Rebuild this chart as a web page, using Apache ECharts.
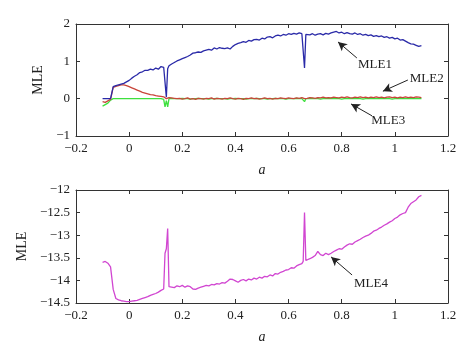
<!DOCTYPE html>
<html><head><meta charset="utf-8">
<script src="https://cdn.jsdelivr.net/npm/echarts@6/dist/echarts.min.js"></script>
<style>html,body{margin:0;padding:0;background:#fff}#c{width:474px;height:361px}</style>
</head><body><div id="c"></div>
<script>
const xs = [
-0.10,-0.09,-0.08,-0.07,-0.06,-0.05,-0.04,-0.03,-0.02,-0.01,
0.00,0.01,0.02,0.03,0.04,0.05,0.06,0.07,0.08,0.09,
0.10,0.11,0.12,0.13,0.135,0.14,0.145,0.15,0.16,0.17,
0.18,0.19,0.20,0.21,0.22,0.23,0.24,0.25,0.26,0.27,
0.28,0.29,0.30,0.31,0.32,0.33,0.34,0.35,0.36,0.37,
0.38,0.39,0.40,0.41,0.42,0.43,0.44,0.45,0.46,0.47,
0.48,0.49,0.50,0.51,0.52,0.53,0.54,0.55,0.56,0.57,
0.58,0.59,0.60,0.61,0.62,0.63,0.64,0.65,0.655,0.66,
0.665,0.67,0.68,0.69,0.70,0.71,0.72,0.73,0.74,0.75,
0.76,0.77,0.78,0.79,0.80,0.81,0.82,0.83,0.84,0.85,
0.86,0.87,0.88,0.89,0.90,0.91,0.92,0.93,0.94,0.95,
0.96,0.97,0.98,0.99,1.00,1.01,1.02,1.03,1.04,1.05,
1.06,1.07,1.08,1.09,1.10];

const mle1 = [
0.00,0.00,0.00,0.00,0.32,0.35,0.37,0.39,0.41,0.45,
0.49,0.55,0.60,0.64,0.70,0.72,0.76,0.76,0.79,0.77,
0.82,0.79,0.86,0.84,0.86,0.04,0.80,0.88,0.93,0.97,
1.01,1.04,1.07,1.10,1.13,1.17,1.22,1.23,1.25,1.24,
1.28,1.30,1.32,1.30,1.36,1.33,1.37,1.35,1.34,1.36,
1.33,1.40,1.45,1.48,1.50,1.53,1.51,1.56,1.54,1.58,
1.59,1.57,1.62,1.60,1.65,1.66,1.63,1.68,1.70,1.68,
1.72,1.70,1.74,1.72,1.75,1.73,1.76,1.74,1.77,0.82,
1.72,1.74,1.71,1.74,1.70,1.73,1.74,1.71,1.75,1.73,
1.76,1.78,1.80,1.76,1.78,1.74,1.77,1.74,1.73,1.76,
1.72,1.74,1.70,1.72,1.69,1.71,1.67,1.69,1.66,1.68,
1.64,1.66,1.62,1.64,1.60,1.62,1.57,1.58,1.54,1.50,
1.47,1.46,1.43,1.40,1.42];

const mle2 = [
-0.08,-0.10,-0.06,-0.02,0.30,0.33,0.35,0.37,0.37,0.35,
0.32,0.29,0.26,0.23,0.20,0.17,0.15,0.13,0.11,0.10,
0.08,0.07,0.06,0.05,0.04,0.00,0.01,0.03,0.02,0.01,
0.00,0.01,-0.01,0.00,0.02,-0.01,0.00,-0.02,0.01,0.00,
-0.01,0.01,0.00,0.02,-0.01,0.01,0.00,-0.01,0.01,0.00,
0.02,0.00,-0.01,0.01,0.00,-0.02,0.01,0.00,0.02,0.00,
0.01,-0.01,0.00,0.02,0.00,0.01,-0.01,0.01,0.00,0.02,
0.01,0.00,0.02,0.01,0.00,0.02,0.01,0.03,0.02,0.00,
0.02,0.01,0.03,0.02,0.01,0.03,0.02,0.04,0.02,0.03,
0.02,0.04,0.03,0.02,0.04,0.03,0.05,0.03,0.02,0.04,
0.03,0.05,0.03,0.04,0.02,0.04,0.03,0.05,0.03,0.04,
0.02,0.04,0.05,0.03,0.04,0.02,0.04,0.03,0.05,0.03,
0.04,0.03,0.05,0.04,0.03];

const mle3 = [
-0.20,-0.16,-0.12,-0.04,0.00,0.00,0.00,0.00,0.00,0.00,
0.00,0.00,0.00,0.00,0.00,0.00,0.00,0.00,0.00,0.00,
0.00,0.00,0.00,-0.02,-0.22,-0.05,-0.22,0.00,0.00,0.00,
0.00,0.00,0.01,0.00,0.00,-0.01,0.00,0.00,0.01,0.00,
0.00,0.00,-0.01,0.00,0.00,0.01,0.00,0.00,0.00,-0.01,
0.00,0.00,0.01,0.00,0.00,0.00,-0.01,0.00,0.00,0.00,
0.01,0.00,0.00,0.00,-0.01,0.00,0.00,0.01,0.00,0.00,
0.00,-0.01,0.00,0.00,0.00,0.01,0.00,0.00,0.00,-0.08,
0.00,0.00,0.00,0.01,0.00,0.00,-0.01,0.00,0.00,0.00,
0.01,0.00,0.00,0.00,-0.01,0.00,0.00,0.01,0.00,0.00,
0.00,0.00,-0.01,0.00,0.00,0.01,0.00,0.00,0.00,0.00,
0.01,0.00,0.00,-0.01,0.00,0.00,0.00,0.01,0.00,0.00,
0.00,0.00,0.01,0.00,0.00];

const mle4 = [
-13.60,-13.58,-13.62,-13.70,-14.20,-14.40,-14.43,-14.45,-14.46,-14.47,
-14.47,-14.46,-14.45,-14.44,-14.42,-14.40,-14.38,-14.36,-14.33,-14.31,
-14.29,-14.26,-14.22,-14.19,-13.40,-13.30,-12.85,-14.14,-14.15,-14.16,
-14.12,-14.14,-14.11,-14.15,-14.12,-14.14,-14.19,-14.20,-14.17,-14.15,
-14.13,-14.11,-14.12,-14.09,-14.10,-14.07,-14.08,-14.05,-14.06,-14.02,
-13.97,-13.98,-14.01,-14.04,-14.00,-13.98,-14.01,-13.97,-13.99,-13.95,
-13.97,-13.93,-13.95,-13.91,-13.92,-13.88,-13.90,-13.85,-13.86,-13.82,
-13.80,-13.77,-13.76,-13.72,-13.73,-13.68,-13.65,-13.63,-13.58,-12.50,
-13.56,-13.55,-13.52,-13.49,-13.45,-13.36,-13.43,-13.45,-13.40,-13.43,
-13.40,-13.36,-13.33,-13.30,-13.31,-13.26,-13.22,-13.19,-13.20,-13.15,
-13.12,-13.09,-13.05,-13.02,-13.00,-12.96,-12.91,-12.89,-12.85,-12.82,
-12.78,-12.75,-12.71,-12.68,-12.63,-12.60,-12.55,-12.52,-12.50,-12.38,
-12.30,-12.26,-12.22,-12.15,-12.12];

// annotations: [label, arrowStart, arrowEnd, labelPos]
const notes1 = [
  ['MLE1', [0.857, 1.09], [0.786, 1.52], [0.925, 0.90]],
  ['MLE2', [1.049, 0.50], [0.955, 0.20], [1.120, 0.53]],
  ['MLE3', [0.914, -0.46], [0.835, -0.14], [0.975, -0.60]]
];
const notes2 = [
  ['MLE4', [0.839, -13.88], [0.760, -13.48], [0.910, -14.07]]
];

const FONT = 'Liberation Serif';
const fmt = v => String(+v.toFixed(2)).replace('-', '\u2212');
const pair = arr => arr.map((v, i) => [xs[i], v]);

function xAx(grid, pos, show) {
  return {
    type: 'value', gridIndex: grid, position: pos, min: -0.2, max: 1.2, interval: 0.2,
    axisLine: {show: true, onZero: false, lineStyle: {color: '#333', width: 1}},
    axisTick: {show: true, inside: true, length: 4, lineStyle: {color: '#333'}},
    axisLabel: {show: show, color: '#222', fontFamily: FONT, fontSize: 13, margin: 6, formatter: fmt},
    splitLine: {show: false},
    name: show ? 'a' : '', nameLocation: 'middle', nameGap: 27,
    nameTextStyle: {fontFamily: FONT, fontStyle: 'italic', fontSize: 14, color: '#222'}
  };
}
function yAx(grid, pos, show, min, max, iv, gap) {
  return {
    type: 'value', gridIndex: grid, position: pos, min: min, max: max, interval: iv,
    axisLine: {show: true, onZero: false, lineStyle: {color: '#333', width: 1}},
    axisTick: {show: true, inside: true, length: 4, lineStyle: {color: '#333'}},
    axisLabel: {show: show, color: '#222', fontFamily: FONT, fontSize: 13, margin: 6, formatter: fmt},
    splitLine: {show: false},
    name: show ? 'MLE' : '', nameLocation: 'middle', nameGap: gap, nameRotate: 90,
    nameTextStyle: {fontFamily: FONT, fontSize: 14, color: '#222'}
  };
}
function annot(notes) {
  return {
    markLine: {
      silent: true, animation: false, symbol: ['none', 'arrow'], symbolSize: [7, 9],
      lineStyle: {color: '#222', width: 1, type: 'solid'}, label: {show: false},
      data: notes.map(n => [{coord: n[1]}, {coord: n[2]}])
    },
    markPoint: {
      silent: true, animation: false, symbol: 'circle', symbolSize: 1,
      itemStyle: {color: 'rgba(0,0,0,0)'},
      label: {show: true, position: 'inside', color: '#222', fontFamily: FONT, fontSize: 13, formatter: p => p.name},
      data: notes.map(n => ({name: n[0], coord: n[3]}))
    }
  };
}
function line(name, data, color, xi, yi, extra) {
  return Object.assign({
    name: name, type: 'line', xAxisIndex: xi, yAxisIndex: yi, data: pair(data),
    showSymbol: false, symbol: 'none', lineStyle: {color: color, width: 1.3}, itemStyle: {color: color},
    z: 2
  }, extra || {});
}

const chart = echarts.init(document.getElementById('c'), null, {renderer: 'canvas'});
chart.setOption({
  animation: false,
  backgroundColor: '#fff',
  grid: [
    {left: 76, top: 24, width: 372, height: 112},
    {left: 76, top: 190, width: 372, height: 113}
  ],
  xAxis: [xAx(0, 'bottom', true), xAx(0, 'top', false), xAx(1, 'bottom', true), xAx(1, 'top', false)],
  yAxis: [
    yAx(0, 'left', true, -1, 2, 1, 31), yAx(0, 'right', false, -1, 2, 1, 0),
    yAx(1, 'left', true, -14.5, -12, 0.5, 44), yAx(1, 'right', false, -14.5, -12, 0.5, 0)
  ],
  series: [
    line('MLE3', mle3, '#3ee03e', 0, 0),
    line('MLE2', mle2, '#c8453a', 0, 0),
    line('MLE1', mle1, '#2a2aa8', 0, 0, annot(notes1)),
    line('MLE4', mle4, '#d146d1', 2, 2, annot(notes2))
  ]
});
</script></body></html>
